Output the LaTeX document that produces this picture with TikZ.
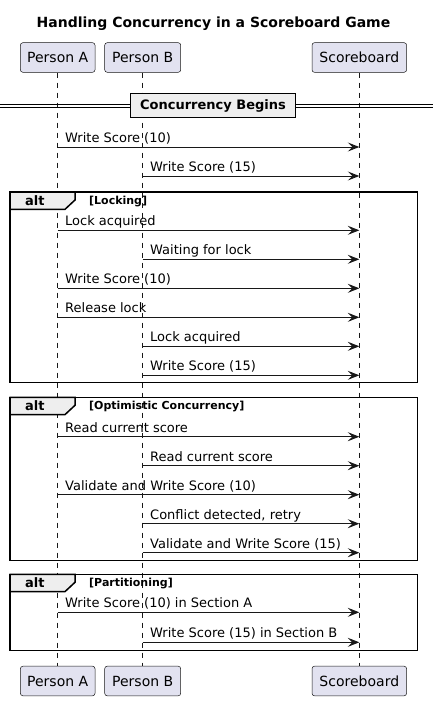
\documentclass[tikz,border=0pt]{standalone}
\usepackage{fontspec}
\setmainfont{DejaVu Sans}
\usetikzlibrary{arrows.meta}
\definecolor{partFill}{HTML}{E2E2F0}
\definecolor{lineCol}{HTML}{181818}
\definecolor{tabFill}{HTML}{EEEEEE}
\begin{document}
\begin{tikzpicture}[x=1pt, y=-1pt,
    partStyle/.style={draw=lineCol, line width=0.5pt, fill=partFill, rounded corners=2.5pt, minimum height=29.6pt, inner sep=0pt, font=\fontsize{14}{16}\selectfont},
    lifeStyle/.style={draw=lineCol, line width=0.5pt, dash pattern=on 5pt off 5pt},
    msgArrow/.style={draw=lineCol, line width=1pt, -{Stealth[length=11.5pt, width=9pt, inset=4.5pt]}},
    msgLabel/.style={anchor=base west, inner sep=0pt, xshift=7pt, yshift=4.5pt, font=\fontsize{13}{15}\selectfont},
    frameStyle/.style={draw=black, line width=1.5pt},
    tabStyle/.style={draw=black, line width=1.5pt, fill=tabFill},
    altLabel/.style={anchor=base west, inner sep=0pt, font=\fontsize{13}{15}\selectfont\bfseries},
    guardLabel/.style={anchor=base west, inner sep=0pt, font=\fontsize{11}{13}\selectfont\bfseries}]
    \useasboundingbox (0,0) rectangle (433,701);

    \node[anchor=base, inner sep=0pt, font=\fontsize{14}{16}\selectfont\bfseries](title) at (213.5, 27.3) {Handling Concurrency in a Scoreboard Game};

    \node[partStyle, minimum width=74.6pt](pa) at (57.7, 57.5) {Person A};
    \node[partStyle, minimum width=76pt](pb) at (142.7, 57.5) {Person B};
    \node[partStyle, minimum width=94.6pt](sb) at (359.3, 57.5) {Scoreboard};
    \node[partStyle, minimum width=74.6pt](pa2) at (57.7, 681) {Person A};
    \node[partStyle, minimum width=76pt](pb2) at (142.7, 681) {Person B};
    \node[partStyle, minimum width=94.6pt](sb2) at (359.3, 681) {Scoreboard};

    \draw[lifeStyle] (pa) -- (pa2);
    \draw[lifeStyle] (pb) -- (pb2);
    \draw[lifeStyle] (sb) -- (sb2);

    % separator
    \draw[line width=1pt] (0, 104.3) -- (433, 104.3);
    \draw[line width=1pt] (0, 107.3) -- (433, 107.3);
    \node[draw=black, line width=1.5pt, fill=tabFill, minimum width=164.6pt, minimum height=24.4pt, inner sep=0pt, font=\fontsize{13}{15}\selectfont\bfseries](sep) at (213, 105.5) {Concurrency Begins};

    \draw[msgArrow] (pa |- 0,147) -- node[msgLabel, pos=0](m1) {Write Score (10)} (sb |- 0,147);
    \draw[msgArrow] (pb |- 0,176) -- node[msgLabel, pos=0](m2) {Write Score (15)} (sb |- 0,176);

    % alt Locking
    \draw[frameStyle] (10, 192) rectangle (417.7, 382.7);
    \draw[tabStyle] (10, 192) -- (75, 192) -- (75, 200) -- (65, 209.3) -- (10, 209.3) -- cycle;
    \node[altLabel](alt1) at (25, 205) {alt};
    \node[guardLabel](g1) at (89, 204) {[Locking]};
    \draw[msgArrow] (pa |- 0,230.3) -- node[msgLabel, pos=0](m3) {Lock acquired} (sb |- 0,230.3);
    \draw[msgArrow] (pb |- 0,259.3) -- node[msgLabel, pos=0](m4) {Waiting for lock} (sb |- 0,259.3);
    \draw[msgArrow] (pa |- 0,288.3) -- node[msgLabel, pos=0](m5) {Write Score (10)} (sb |- 0,288.3);
    \draw[msgArrow] (pa |- 0,317.3) -- node[msgLabel, pos=0](m6) {Release lock} (sb |- 0,317.3);
    \draw[msgArrow] (pb |- 0,346.3) -- node[msgLabel, pos=0](m7) {Lock acquired} (sb |- 0,346.3);
    \draw[msgArrow] (pb |- 0,375.3) -- node[msgLabel, pos=0](m8) {Write Score (15)} (sb |- 0,375.3);

    % alt Optimistic Concurrency
    \draw[frameStyle] (10, 397.3) rectangle (417.7, 560.3);
    \draw[tabStyle] (10, 397.3) -- (75, 397.3) -- (75, 405.3) -- (65, 414.6) -- (10, 414.6) -- cycle;
    \node[altLabel](alt2) at (25, 410.3) {alt};
    \node[guardLabel](g2) at (89, 409.3) {[Optimistic Concurrency]};
    \draw[msgArrow] (pa |- 0,436.7) -- node[msgLabel, pos=0](m9) {Read current score} (sb |- 0,436.7);
    \draw[msgArrow] (pb |- 0,465.7) -- node[msgLabel, pos=0](m10) {Read current score} (sb |- 0,465.7);
    \draw[msgArrow] (pa |- 0,494.7) -- node[msgLabel, pos=0](m11) {Validate and Write Score (10)} (sb |- 0,494.7);
    \draw[msgArrow] (pb |- 0,523.7) -- node[msgLabel, pos=0](m12) {Conflict detected, retry} (sb |- 0,523.7);
    \draw[msgArrow] (pb |- 0,552.7) -- node[msgLabel, pos=0](m13) {Validate and Write Score (15)} (sb |- 0,552.7);

    % alt Partitioning
    \draw[frameStyle] (10, 574.3) rectangle (417.7, 650.3);
    \draw[tabStyle] (10, 574.3) -- (75, 574.3) -- (75, 582.3) -- (65, 591.6) -- (10, 591.6) -- cycle;
    \node[altLabel](alt3) at (25, 587.3) {alt};
    \node[guardLabel](g3) at (89, 586.3) {[Partitioning]};
    \draw[msgArrow] (pa |- 0,612.3) -- node[msgLabel, pos=0](m14) {Write Score (10) in Section A} (sb |- 0,612.3);
    \draw[msgArrow] (pb |- 0,642.3) -- node[msgLabel, pos=0](m15) {Write Score (15) in Section B} (sb |- 0,642.3);
\end{tikzpicture}
\end{document}
